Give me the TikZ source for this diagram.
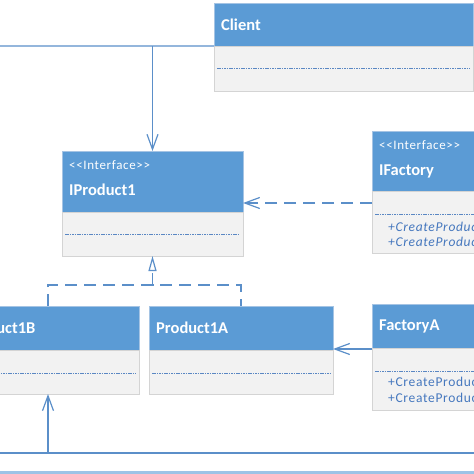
\documentclass[tikz,border=0pt]{standalone}
\usepackage{fontspec}
\setmainfont{Carlito}
\newfontfamily\smallfam[LetterSpace=5]{Carlito}
\usetikzlibrary{positioning,arrows.meta}

\definecolor{hdrblue}{RGB}{91,155,213}
\definecolor{hdrline}{RGB}{165,196,228}
\definecolor{bodygray}{RGB}{242,242,242}
\definecolor{bodyline}{RGB}{212,212,212}
\definecolor{wire}{RGB}{91,143,201}
\definecolor{sepblue}{RGB}{90,135,195}
\definecolor{methblue}{RGB}{70,120,190}
\definecolor{edgeblue}{RGB}{157,195,230}

\tikzset{
  head/.style={draw=hdrline, fill=hdrblue, anchor=north west, inner sep=0, outer sep=0},
  body/.style={draw=bodyline, fill=bodygray, inner sep=0, outer sep=0},
  title/.style={anchor=west, inner sep=0, text=white, font=\fontsize{16.5bp}{18bp}\selectfont\bfseries},
  stereo/.style={anchor=west, inner sep=0, text=white, font=\fontsize{13bp}{15bp}\smallfam},
  meth/.style={anchor=west, inner sep=0, text=methblue, font=\fontsize{13.5bp}{15bp}\smallfam},
  sep/.style={sepblue, line width=1bp, dash pattern=on 1.5bp off 0.9bp},
  opentip/.tip={Straight Barb[length=15bp, width=11bp, line width=1.2bp]},
  assoc/.style={wire, line width=1.2bp},
  depend/.style={wire, line width=1.2bp, dash pattern=on 12bp off 7bp},
}

\begin{document}
\begin{tikzpicture}[x=1bp,y=-1bp]
\useasboundingbox (0,0) rectangle (474,474);
\clip (0,0) rectangle (474,474);

% classes
\node[head, minimum width=259bp, minimum height=43bp] (client) at (214,3) {};
\node[body, minimum width=259bp, minimum height=45bp, below=0bp of client] (clientb) {};
\node[title] (clientt) at ([xshift=7bp]client.west) {Client};

\node[head, minimum width=181bp, minimum height=61bp] (ip1) at (62,151) {};
\node[body, minimum width=181bp, minimum height=44bp, below=0bp of ip1] (ip1b) {};
\node[stereo] (ip1s) at ([xshift=7bp,yshift=-14bp]ip1.north west) {{<}{<}Interface{>}{>}};
\node[title] (ip1t) at ([xshift=7bp,yshift=-39bp]ip1.north west) {IProduct1};

\node[head, minimum width=184bp, minimum height=60bp] (ifac) at (372,131) {};
\node[body, minimum width=184bp, minimum height=62bp, below=0bp of ifac] (ifacb) {};
\node[stereo] (ifacs) at ([xshift=7bp,yshift=-14bp]ifac.north west) {{<}{<}Interface{>}{>}};
\node[title] (ifact) at ([xshift=7bp,yshift=-40bp]ifac.north west) {IFactory};
\node[meth] (ifacm1) at ([xshift=16bp,yshift=-36bp]ifac.south west) {\itshape +CreateProduct1()};
\node[meth] (ifacm2) at ([xshift=16bp,yshift=-51bp]ifac.south west) {\itshape +CreateProduct2()};

\node[head, minimum width=182bp, minimum height=44bp] (p1b) at (-43,306) {};
\node[body, minimum width=182bp, minimum height=44bp, below=0bp of p1b] (p1bb) {};
\node[title] (p1bt) at ([xshift=7bp]p1b.west) {Product1B};

\node[head, minimum width=184bp, minimum height=44bp] (p1a) at (149,306) {};
\node[body, minimum width=184bp, minimum height=44bp, below=0bp of p1a] (p1ab) {};
\node[title] (p1at) at ([xshift=7bp]p1a.west) {Product1A};

\node[head, minimum width=184bp, minimum height=44bp] (faca) at (372,304) {};
\node[body, minimum width=184bp, minimum height=62bp, below=0bp of faca] (facab) {};
\node[title] (facat) at ([xshift=7bp]faca.west) {FactoryA};
\node[meth] (facam1) at ([xshift=16bp,yshift=-34bp]faca.south west) {+CreateProduct1()};
\node[meth] (facam2) at ([xshift=16bp,yshift=-50bp]faca.south west) {+CreateProduct2()};

% separators
\draw[sep] ([xshift=3bp,yshift=-23bp]clientb.north west) -- ([xshift=-3bp,yshift=-23bp]clientb.north east);
\draw[sep] ([xshift=3bp,yshift=-22bp]ip1b.north west) -- ([xshift=-3bp,yshift=-22bp]ip1b.north east);
\draw[sep] ([xshift=3bp,yshift=-23bp]ifacb.north west) -- ([xshift=-3bp,yshift=-23bp]ifacb.north east);
\draw[sep] ([xshift=3bp,yshift=-23bp]p1bb.north west) -- ([xshift=-3bp,yshift=-23bp]p1bb.north east);
\draw[sep] ([xshift=3bp,yshift=-23bp]p1ab.north west) -- ([xshift=-3bp,yshift=-23bp]p1ab.north east);
\draw[sep] ([xshift=3bp,yshift=-23bp]facab.north west) -- ([xshift=-3bp,yshift=-23bp]facab.north east);

% connectors
\coordinate (wireL) at (-10,46);
\coordinate (busL) at (-10,453);
\coordinate (busR) at (484,453);
\coordinate (join) at ([yshift=-29bp]ip1b.south);
\draw[assoc] (wireL) -- (client.south west);
\draw[assoc,-opentip] (wireL -| ip1.north) -- (ip1.north);
\draw[depend,-opentip] ([yshift=-12bp]ifac.south west) coordinate (d1) -- (d1 -| ip1.east);
\draw[depend] (p1b.north) |- (join) -| (p1a.north);
\draw[depend,-{Triangle[open, length=15bp, width=8bp, line width=1.2bp]}] (join) -- (ip1b.south);
\draw[assoc,-opentip] ([yshift=-1bp]faca.south west) coordinate (f1) -- (f1 -| p1a.east);
\draw[assoc] (busL) -- (busR);
\draw[assoc,-opentip] (busL -| p1bb.south) -- (p1bb.south);
\draw[edgeblue, line width=3bp] (-10,472.5) -- (484,472.5);
\end{tikzpicture}
\end{document}
